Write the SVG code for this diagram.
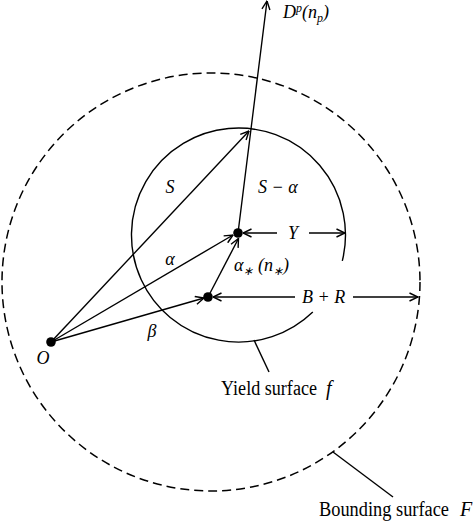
<svg xmlns="http://www.w3.org/2000/svg" width="474" height="523" viewBox="0 0 474 523">
<style>
.ln{stroke:#000;stroke-width:1.4;fill:none}
.dash{stroke:#000;stroke-width:1.5;fill:none;stroke-dasharray:9 5}
.arr{marker-end:url(#ah)}
.dot{fill:#000}
.math{font-family:"Liberation Serif",serif;font-style:italic;font-size:18px;fill:#000}
.lbl{font-family:"Liberation Serif",serif;font-size:20px;fill:#000}
.it{font-style:italic}
.sub{font-size:12px}
</style>
<defs>
<marker id="ah" viewBox="0 0 10 10" refX="9.5" refY="5" markerWidth="10" markerHeight="10" markerUnits="userSpaceOnUse" orient="auto">
<path d="M1,1 L9.5,5 L1,9" fill="none" stroke="#000" stroke-width="1.4"/>
</marker>
</defs>
<rect width="474" height="523" fill="#fff"/>
<g id="bounding-surface">
<circle class="dash" cx="211" cy="282" r="209"/>
</g>
<g id="yield-surface">
<path class="ln" d="M312.8 312 A107 107 0 1 1 342.3 260.9"/>
</g>
<g id="connectors">
<line class="ln arr" x1="51" y1="342" x2="249" y2="131"/>
<line class="ln arr" x1="51" y1="342" x2="233" y2="235"/>
<line class="ln arr" x1="51" y1="342" x2="204" y2="298"/>
<line class="ln arr" x1="208" y1="297" x2="238.5" y2="238.5"/>
<line class="ln arr" x1="238" y1="233" x2="267" y2="1"/>
<line class="ln arr" x1="277" y1="233" x2="243" y2="233"/>
<line class="ln arr" x1="309" y1="233" x2="345" y2="233"/>
<line class="ln arr" x1="295" y1="297" x2="213" y2="297"/>
<line class="ln arr" x1="353" y1="297" x2="418" y2="297"/>
<line class="ln" x1="254" y1="340" x2="269" y2="372"/>
<line class="ln" x1="333" y1="452" x2="393" y2="497"/>
</g>
<g id="node-O">
<circle class="dot" cx="51" cy="342" r="4.8"/>
<text class="math" x="43" y="364" text-anchor="middle">O</text>
</g>
<g id="node-center">
<circle class="dot" cx="238" cy="233" r="4.8"/>
</g>
<g id="node-beta-end">
<circle class="dot" cx="208" cy="297" r="4.8"/>
</g>
<g id="labels">
<text class="math" x="170" y="193" text-anchor="middle">S</text>
<text class="math" x="258" y="193">S − α</text>
<text class="math" x="293" y="239" text-anchor="middle">Y</text>
<text class="math" x="170" y="265" text-anchor="middle">α</text>
<text class="math" x="234" y="271">α<tspan class="sub" dy="4">∗</tspan><tspan dy="-4"> (n</tspan><tspan class="sub" dy="4">∗</tspan><tspan dy="-4">)</tspan></text>
<text class="math" x="302" y="303">B + R</text>
<text class="math" x="152" y="337" text-anchor="middle">β</text>
<text class="math" x="283" y="18">D<tspan class="sub" dy="-6">p</tspan><tspan dy="6">(n</tspan><tspan class="sub" dy="4">p</tspan><tspan dy="-4">)</tspan></text>
<text class="lbl" x="221" y="395" textLength="96" lengthAdjust="spacingAndGlyphs">Yield surface</text>
<text class="lbl it" x="326" y="395">f</text>
<text class="lbl" x="319" y="516" textLength="130" lengthAdjust="spacingAndGlyphs">Bounding surface</text>
<text class="lbl it" x="460" y="516">F</text>
</g>
</svg>
